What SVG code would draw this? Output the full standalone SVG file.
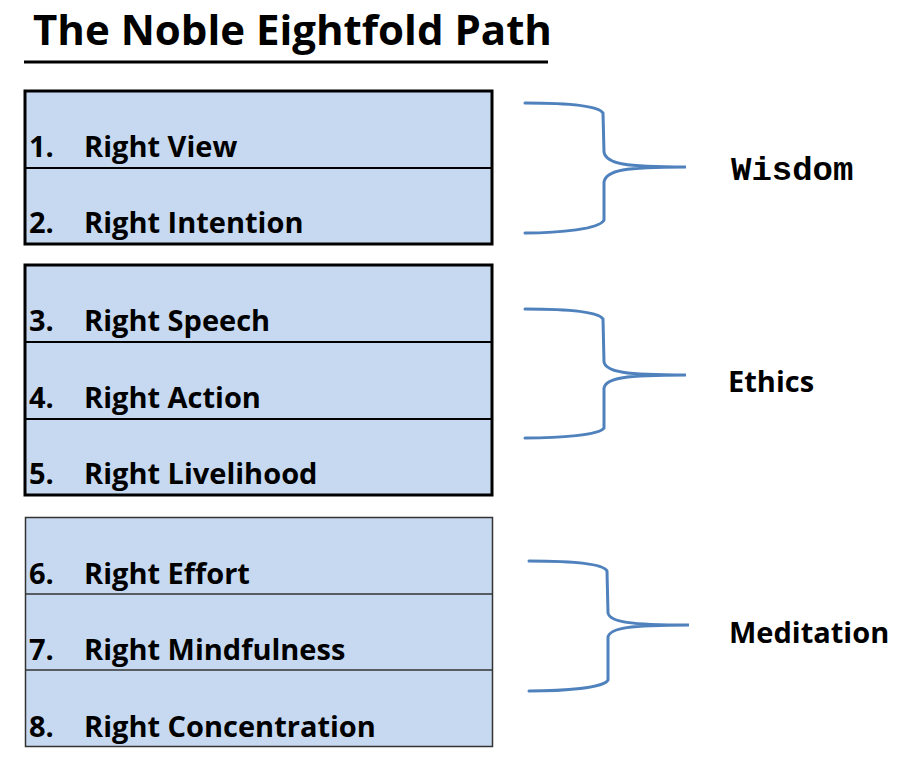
<svg xmlns="http://www.w3.org/2000/svg" width="912" height="759" viewBox="0 0 912 759">
<style>
.t{font-family:"Open Sans",Lato,"Liberation Sans",sans-serif;font-weight:bold;fill:#000}
.row{font-size:29px}
.box{fill:#c6d9f0;stroke:#000;stroke-width:3}
.box3{fill:#c6d9f0;stroke:#333;stroke-width:1.5}
.div{stroke:#000;stroke-width:2}
.br{fill:none;stroke:#4f81bd;stroke-width:3;stroke-linecap:round}
</style>
<rect width="912" height="759" fill="#fff"/>
<g id="title">
<text class="t" x="33" y="45" font-size="42">The Noble Eightfold Path</text>
<line x1="24" y1="62" x2="548" y2="62" stroke="#000" stroke-width="3"/>
</g>
<g id="group-wisdom">
<rect class="box" x="25" y="91" width="467" height="153"/>
<line class="div" x1="25" y1="168" x2="492" y2="168"/>
</g>
<g id="n1"><text class="t row" x="29" y="157">1.</text><text class="t row" x="84" y="157">Right View</text></g>
<g id="n2"><text class="t row" x="29" y="233">2.</text><text class="t row" x="84" y="233">Right Intention</text></g>
<g id="group-ethics">
<rect class="box" x="25" y="265" width="467" height="230"/>
<line class="div" x1="25" y1="342" x2="492" y2="342"/>
<line class="div" x1="25" y1="419" x2="492" y2="419"/>
</g>
<g id="n3"><text class="t row" x="29" y="331">3.</text><text class="t row" x="84" y="331">Right Speech</text></g>
<g id="n4"><text class="t row" x="29" y="408">4.</text><text class="t row" x="84" y="408">Right Action</text></g>
<g id="n5"><text class="t row" x="29" y="484">5.</text><text class="t row" x="84" y="484">Right Livelihood</text></g>
<g id="group-meditation">
<rect class="box3" x="25.5" y="517.5" width="467" height="229"/>
<line class="box3" x1="25.5" y1="594" x2="492.5" y2="594"/>
<line class="box3" x1="25.5" y1="670" x2="492.5" y2="670"/>
</g>
<g id="n6"><text class="t row" x="29" y="584">6.</text><text class="t row" x="84" y="584">Right Effort</text></g>
<g id="n7"><text class="t row" x="29" y="660">7.</text><text class="t row" x="84" y="660">Right Mindfulness</text></g>
<g id="n8"><text class="t row" x="29" y="737">8.</text><text class="t row" x="84" y="737">Right Concentration</text></g>
<g id="connectors">
<path class="br" d="M525,103 C560,103 598,105 603,113 L604,152 C606,164 625,167 686,167 C625,167 606,170 604,182 L604,220 C600,229 560,233 525,233"/>
<path class="br" d="M525,309 C560,309 598,311 603,319 L604,362 C606,372 625,375 686,375 C625,375 606,378 604,388 L604,428 C600,435 560,438 525,438"/>
<path class="br" d="M529,561 C564,561 603,563 607,571 L608,613 C610,622 629,625 689,625 C629,625 610,628 608,637 L608,680 C604,688 564,691 529,691"/>
</g>
<g id="wisdom"><text x="731" y="180" font-family="'Liberation Mono','Courier New',monospace" font-weight="bold" font-size="34">Wisdom</text></g>
<g id="ethics"><text class="t" x="728" y="392" font-size="29">Ethics</text></g>
<g id="meditation"><text class="t" x="729" y="643" font-size="29">Meditation</text></g>
</svg>
